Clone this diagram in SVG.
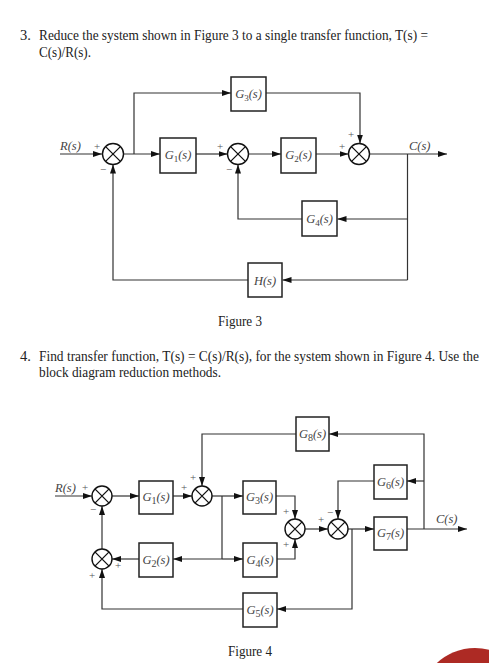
<svg xmlns="http://www.w3.org/2000/svg" width="489" height="663" viewBox="0 0 489 663">
<defs>
<marker id="ah" markerUnits="userSpaceOnUse" markerWidth="9" markerHeight="6" refX="9" refY="3" orient="auto">
<path d="M0,0 L9,3 L0,6 z" fill="#111"/>
</marker>
<style>
.q{font-family:"Liberation Serif",serif;font-size:14.5px;fill:#222}
.cap{font-family:"Liberation Serif",serif;font-size:14px;fill:#222}
.lb{font-family:"Liberation Serif",serif;font-style:italic;font-size:12.5px;fill:#444}
.sg{font-family:"Liberation Serif",serif;font-size:11px;fill:#555}
.box{fill:#fff;stroke:#222;stroke-width:1.5}
.sj{fill:#fff;stroke:#111;stroke-width:1.4}
.x{stroke:#111;stroke-width:1.3}
.w{fill:none;stroke:#333;stroke-width:1.2}
.a{marker-end:url(#ah)}
</style>
</defs>
<rect width="489" height="663" fill="#fff"/>

<!-- Header texts -->
<text class="q" x="20" y="40">3.</text>
<text class="q" x="39" y="40" textLength="389" lengthAdjust="spacingAndGlyphs">Reduce the system shown in Figure 3 to a single transfer function, T(s) =</text>
<text class="q" x="39" y="57" textLength="52" lengthAdjust="spacingAndGlyphs">C(s)/R(s).</text>

<!-- ===== Figure 3 ===== -->
<g id="fig3-connectors">
<path class="w a" d="M60,154 H102"/>
<path class="w a" d="M123.5,154 H160"/>
<path class="w a" d="M134,154 V93 H231"/>
<path class="w a" d="M266,93 H360 V143.5"/>
<path class="w a" d="M196,154 H227.5"/>
<path class="w a" d="M248.5,154 H281"/>
<path class="w a" d="M316,154 H348.5"/>
<path class="w a" d="M369.5,154 H447"/>
<path class="w" d="M407.5,154 V280"/>
<path class="w a" d="M407.5,219 H337.5"/>
<path class="w a" d="M302,219 H238 V164.5"/>
<path class="w a" d="M407.5,280 H282.5"/>
<path class="w a" d="M248,280 H113 V164.5"/>
</g>

<g id="f3-sum1"><circle class="sj" cx="113" cy="154" r="10.5"/><path class="x" d="M105.6,146.6 L120.4,161.4 M120.4,146.6 L105.6,161.4"/></g>
<g id="f3-sum2"><circle class="sj" cx="238" cy="154" r="10.5"/><path class="x" d="M230.6,146.6 L245.4,161.4 M245.4,146.6 L230.6,161.4"/></g>
<g id="f3-sum3"><circle class="sj" cx="359" cy="154" r="10.5"/><path class="x" d="M351.6,146.6 L366.4,161.4 M366.4,146.6 L351.6,161.4"/></g>

<g id="f3-G1"><rect class="box" x="160" y="138" width="36" height="35"/><text class="lb" x="178" y="158.5" text-anchor="middle">G<tspan font-size="9" font-style="normal" dy="3">1</tspan><tspan dy="-3">(s)</tspan></text></g>
<g id="f3-G2"><rect class="box" x="281" y="138" width="35" height="35"/><text class="lb" x="298.5" y="158.5" text-anchor="middle">G<tspan font-size="9" font-style="normal" dy="3">2</tspan><tspan dy="-3">(s)</tspan></text></g>
<g id="f3-G3"><rect class="box" x="231" y="77" width="35" height="34"/><text class="lb" x="248.5" y="97.5" text-anchor="middle">G<tspan font-size="9" font-style="normal" dy="3">3</tspan><tspan dy="-3">(s)</tspan></text></g>
<g id="f3-G4"><rect class="box" x="302" y="201" width="35" height="35"/><text class="lb" x="319.5" y="223" text-anchor="middle">G<tspan font-size="9" font-style="normal" dy="3">4</tspan><tspan dy="-3">(s)</tspan></text></g>
<g id="f3-H"><rect class="box" x="248" y="263" width="34" height="34"/><text class="lb" x="265" y="284.5" text-anchor="middle">H(s)</text></g>

<g id="f3-labels">
<text class="lb" x="60" y="150">R(s)</text>
<text class="lb" x="409" y="150">C(s)</text>
<text class="sg" x="94" y="150">+</text>
<text class="sg" x="100" y="173">−</text>
<text class="sg" x="217" y="150">+</text>
<text class="sg" x="226" y="173">−</text>
<text class="sg" x="348" y="138">+</text>
<text class="sg" x="339" y="150">+</text>
</g>
<text class="cap" x="240" y="326" text-anchor="middle" textLength="44" lengthAdjust="spacingAndGlyphs">Figure 3</text>

<!-- Header 4 -->
<text class="q" x="20" y="361">4.</text>
<text class="q" x="39" y="361" textLength="440" lengthAdjust="spacingAndGlyphs">Find transfer function, T(s) = C(s)/R(s), for the system shown in Figure 4. Use the</text>
<text class="q" x="39" y="377" textLength="182" lengthAdjust="spacingAndGlyphs">block diagram reduction methods.</text>

<!-- ===== Figure 4 ===== -->
<g id="fig4-connectors">
<path class="w a" d="M55,496 H92"/>
<path class="w a" d="M112,496 H139"/>
<path class="w a" d="M173,496 H192"/>
<path class="w a" d="M296,434 H202 V486"/>
<path class="w a" d="M212,496 H243"/>
<path class="w" d="M222,496 V559"/>
<path class="w a" d="M222,559 H173"/>
<path class="w a" d="M222,559 H243"/>
<path class="w a" d="M139,559 H112"/>
<path class="w a" d="M102,549 V506"/>
<path class="w a" d="M277,559 H295 V539"/>
<path class="w a" d="M276,496 H295 V519"/>
<path class="w a" d="M305,529 H328"/>
<path class="w a" d="M348,529 H374"/>
<path class="w a" d="M352,529 V609 H277"/>
<path class="w a" d="M243,609 H102 V569"/>
<path class="w a" d="M407,529 H467"/>
<path class="w a" d="M424,529 V434 H329"/>
<path class="w a" d="M424,481 H407"/>
<path class="w a" d="M374,481 H338 V519"/>
</g>

<g id="f4-sumA"><circle class="sj" cx="102" cy="496" r="10"/><path class="x" d="M94.9,488.9 L109.1,503.1 M109.1,488.9 L94.9,503.1"/></g>
<g id="f4-sumB"><circle class="sj" cx="202" cy="496" r="10"/><path class="x" d="M194.9,488.9 L209.1,503.1 M209.1,488.9 L194.9,503.1"/></g>
<g id="f4-sumC"><circle class="sj" cx="295" cy="529" r="10"/><path class="x" d="M287.9,521.9 L302.1,536.1 M302.1,521.9 L287.9,536.1"/></g>
<g id="f4-sumD"><circle class="sj" cx="338" cy="529" r="10"/><path class="x" d="M330.9,521.9 L345.1,536.1 M345.1,521.9 L330.9,536.1"/></g>
<g id="f4-sumE"><circle class="sj" cx="102" cy="559" r="10"/><path class="x" d="M94.9,551.9 L109.1,566.1 M109.1,551.9 L94.9,566.1"/></g>

<g id="f4-G1"><rect class="box" x="139" y="481" width="34" height="33"/><text class="lb" x="156" y="500.5" text-anchor="middle">G<tspan font-size="10" font-style="normal" dy="3">1</tspan><tspan dy="-3">(s)</tspan></text></g>
<g id="f4-G2"><rect class="box" x="139" y="543" width="34" height="34"/><text class="lb" x="156" y="563.5" text-anchor="middle">G<tspan font-size="10" font-style="normal" dy="3">2</tspan><tspan dy="-3">(s)</tspan></text></g>
<g id="f4-G3"><rect class="box" x="243" y="481" width="33" height="33"/><text class="lb" x="259.5" y="500.5" text-anchor="middle">G<tspan font-size="10" font-style="normal" dy="3">3</tspan><tspan dy="-3">(s)</tspan></text></g>
<g id="f4-G4"><rect class="box" x="243" y="543" width="34" height="34"/><text class="lb" x="260" y="563.5" text-anchor="middle">G<tspan font-size="10" font-style="normal" dy="3">4</tspan><tspan dy="-3">(s)</tspan></text></g>
<g id="f4-G5"><rect class="box" x="243" y="593" width="34" height="34"/><text class="lb" x="260" y="613.5" text-anchor="middle">G<tspan font-size="10" font-style="normal" dy="3">5</tspan><tspan dy="-3">(s)</tspan></text></g>
<g id="f4-G6"><rect class="box" x="374" y="465" width="33" height="34"/><text class="lb" x="390.5" y="485.5" text-anchor="middle">G<tspan font-size="10" font-style="normal" dy="3">6</tspan><tspan dy="-3">(s)</tspan></text></g>
<g id="f4-G7"><rect class="box" x="374" y="517" width="33" height="33"/><text class="lb" x="390.5" y="537" text-anchor="middle">G<tspan font-size="10" font-style="normal" dy="3">7</tspan><tspan dy="-3">(s)</tspan></text></g>
<g id="f4-G8"><rect class="box" x="296" y="417" width="33" height="34"/><text class="lb" x="312.5" y="438" text-anchor="middle">G<tspan font-size="10" font-style="normal" dy="3">8</tspan><tspan dy="-3">(s)</tspan></text></g>

<g id="f4-labels">
<text class="lb" x="55" y="492">R(s)</text>
<text class="lb" x="436" y="523">C(s)</text>
<text class="sg" x="82" y="491">+</text>
<text class="sg" x="90" y="513">−</text>
<text class="sg" x="181" y="491">+</text>
<text class="sg" x="190" y="481">+</text>
<text class="sg" x="283" y="515">+</text>
<text class="sg" x="283" y="548">+</text>
<text class="sg" x="318" y="523">+</text>
<text class="sg" x="327" y="516">−</text>
<text class="sg" x="115" y="569">+</text>
<text class="sg" x="89" y="579">+</text>
</g>
<text class="cap" x="250" y="656" text-anchor="middle" textLength="44" lengthAdjust="spacingAndGlyphs">Figure 4</text>

<circle cx="475" cy="704" r="56" fill="#ad2a24"/>
</svg>
